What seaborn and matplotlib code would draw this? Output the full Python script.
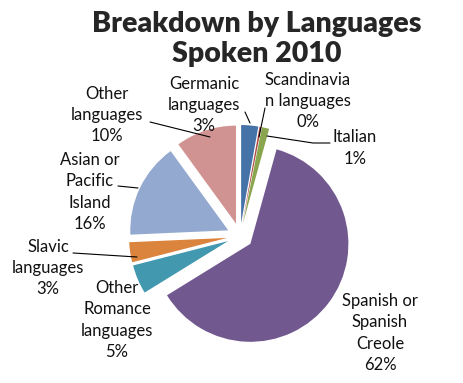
import matplotlib.pyplot as plt
import seaborn as sns

# data (clockwise from 12 o'clock)
languages = ["Germanic\nlanguages", "Scandinavia\nn languages", "Italian", "Spanish or\nSpanish\nCreole",
             "Other\nRomance\nlanguages", "Slavic\nlanguages", "Asian or\nPacific\nIsland", "Other\nlanguages"]
shares = [2.8, 0.3, 1.2, 61.9, 4.8, 3.3, 15.7, 10.0]
colors = ["#4572A7", "#AA4643", "#89A54E", "#71588F", "#4198AF", "#DB843D", "#93A9CF", "#D19392"]

# label centres and leader lines, in pixels from the top-left corner
label_pos = [(204, 105), (308, 101), (355, 148), (380, 333), (117, 320), (48, 268), (90, 192), (107, 115)]
leaders = [[(245, 112), (250, 123)], [(265, 108), (259, 137)], [(330, 143), (313, 143), (267, 136)],
           None, None, [(73, 253), (137, 257)], [(118, 186), (138, 188)], [(150, 122), (210, 137)]]

sns.set_style("white")
plt.rcParams["font.family"] = ["Lato", "DejaVu Sans"]

W, H = 464, 383
fig = plt.figure(figsize=(W / 100, H / 100), dpi=100)
ax = fig.add_axes([0, 0, 1, 1])

# explode is in data units here (pixels)
ax.pie(shares, colors=colors, startangle=90, counterclock=False, radius=98,
       center=(240, H - 236), explode=[13] * len(shares),
       wedgeprops=dict(linewidth=0), frame=True)
ax.set_xlim(0, W)
ax.set_ylim(0, H)
ax.set_aspect("equal")
ax.axis("off")

for name, val, (x, y), line in zip(languages, shares, label_pos, leaders):
    ax.text(x, H - y, f"{name}\n{round(val)}%", ha="center", va="center",
            fontsize=12, linespacing=1.42, color="#111111")
    if line:
        ax.plot([p[0] for p in line], [H - p[1] for p in line], color="black", lw=0.8)

ax.text(257, H - 39, "Breakdown by Languages\nSpoken 2010", ha="center", va="center",
        fontsize=20.5, fontweight="heavy", linespacing=1.2)

fig.savefig("out.png", dpi=100)
